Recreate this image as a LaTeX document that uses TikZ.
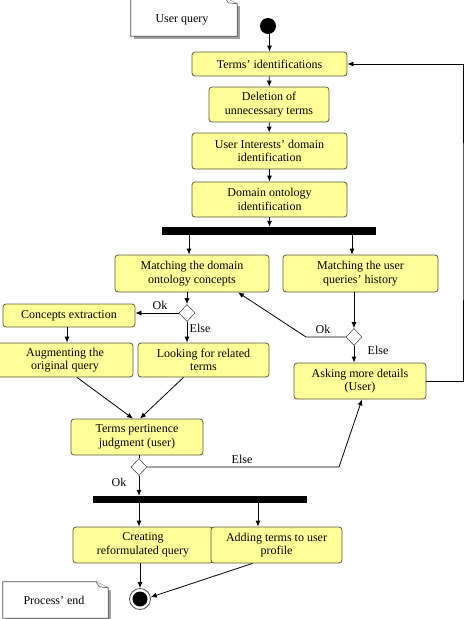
\documentclass[tikz,border=0pt]{standalone}
\usepackage{fontspec}
\setmainfont{Liberation Serif}
\usetikzlibrary{shapes.geometric,arrows.meta}
\definecolor{actfill}{HTML}{FFFF99}
\definecolor{actborder}{HTML}{5A5A3A}
\definecolor{notec}{HTML}{505050}
\definecolor{shadowc}{HTML}{A0A0A0}
\begin{document}
\begin{tikzpicture}[x=1pt,y=-1pt,
  txt/.style={font=\fontsize{12}{13.5}\selectfont},
  act/.style={txt,draw=actborder,fill=actfill,rounded corners=3pt,line width=0.8pt,align=center,inner sep=0pt},
  bar/.style={fill=black,inner sep=0pt,minimum height=8pt},
  dec/.style={diamond,draw=notec,fill=white,line width=0.6pt,inner sep=0pt,minimum width=16pt,minimum height=17pt},
  arr/.style={-{Latex[length=6pt,width=5pt]},line width=0.8pt},
  ln/.style={line width=0.8pt},
  notebox/.style={inner sep=0pt},
  lbl/.style={txt,inner sep=0pt}
]
\useasboundingbox (0,0) rectangle (464,619);

% notes
\node[notebox,minimum width=106pt,minimum height=38pt] (uq) at (184,17) {};
\node[notebox,minimum width=105pt,minimum height=36pt] (pe) at (55.5,600) {};
\foreach \n in {uq,pe}{
  \fill[shadowc] ([shift={(3pt,-3pt)}]\n.south west) rectangle ([shift={(3pt,-8pt)}]\n.north east);
  \draw[notec,fill=white,line width=0.8pt] (\n.north west) -- ([xshift=-12pt]\n.north east) -- ([yshift=-6pt]\n.north east) -- (\n.south east) -- (\n.south west) -- cycle;
  \draw[notec,fill=white,line width=0.6pt] ([xshift=-12pt]\n.north east) -- ([xshift=-9pt,yshift=-5pt]\n.north east) -- ([yshift=-6pt]\n.north east);
}
\node[txt] (uqt) at (182,20) {User query};
\node[txt] (pet) at (54,600) {Process' end};

% start / end
\node[circle,fill=black,minimum size=16pt,inner sep=0pt] (start) at (268,26) {};
\node[circle,draw=notec,fill=white,line width=0.8pt,minimum size=21pt,inner sep=0pt] (endo) at (140,599) {};
\node[circle,fill=black,minimum size=15pt,inner sep=0pt] (endi) at (140,599) {};

% activities
\node[act,minimum width=155pt,minimum height=24pt] (tid) at (269.5,64) {Terms' identifications};
\node[act,minimum width=120pt,minimum height=35pt] (del) at (269,104.5) {Deletion of\\unnecessary terms};
\node[act,minimum width=155pt,minimum height=36pt] (uid) at (269.5,151) {User Interests' domain\\identification};
\node[act,minimum width=155pt,minimum height=35pt] (doi) at (269.5,199.5) {Domain ontology\\identification};
\node[bar,minimum width=214pt] (bar1) at (269,231) {};
\node[act,minimum width=154pt,minimum height=37pt] (mdom) at (192,273.5) {Matching the domain\\ontology concepts};
\node[act,minimum width=155pt,minimum height=37pt] (mhist) at (360.5,273.5) {Matching the user\\queries' history};
\node[dec] (dia1) at (187,313) {};
\node[act,minimum width=132pt,minimum height=23pt] (cext) at (69,315.5) {Concepts extraction};
\node[act,minimum width=136pt,minimum height=34pt] (aug) at (65,360) {Augmenting the\\original query};
\node[act,minimum width=131pt,minimum height=34pt] (look) at (203.5,360) {Looking for related\\terms};
\node[dec] (dia2) at (354,337) {};
\node[act,minimum width=132pt,minimum height=36pt] (ask) at (360,381) {Asking more details\\(User)};
\node[act,minimum width=132pt,minimum height=36pt] (tp) at (137,437) {Terms pertinence\\judgment (user)};
\node[dec] (dia3) at (139,467) {};
\node[bar,minimum width=214pt,minimum height=7pt] (bar2) at (200,499.5) {};
\node[act,minimum width=140pt,minimum height=36pt] (cre) at (143,545) {Creating\\reformulated query};
\node[act,minimum width=131pt,minimum height=36pt] (add) at (276.5,545) {Adding terms to user\\profile};

% labels
\node[lbl] (ok1) at (160,305) {Ok};
\node[lbl] (else1) at (200,328) {Else};
\node[lbl] (ok2) at (323,329) {Ok};
\node[lbl] (else2) at (378,350) {Else};
\node[lbl] (else3) at (242,459) {Else};
\node[lbl] (ok3) at (119,482) {Ok};

% connectors
\draw[arr] (start.south -| tid.north) -- (tid.north);
\draw[arr] (tid) -- (del);
\draw[arr] (del) -- (uid);
\draw[arr] (uid) -- (doi);
\draw[arr] (doi.south) -- (doi.south |- bar1.north);
\draw[arr] (bar1.south -| 189,0) -- (mdom.north -| 189,0);
\draw[arr] (bar1.south -| 352,0) -- (mhist.north -| 352,0);
\draw[arr] (mdom.south -| dia1.north) -- (dia1.north);
\draw[arr] (dia1.west) -- (dia1.west -| cext.east);
\draw[arr] (dia1.south) -- (dia1.south |- look.north);
\draw[arr] (cext.south -| 67,0) -- (aug.north -| 67,0);
\draw[arr] (mhist.south -| dia2.north) -- (dia2.north);
\draw[arr] (dia2.south) -- (dia2.south |- ask.north);
\coordinate (c2) at (306,337);
\draw[arr] (dia2.west) -- (c2) -- ([xshift=46pt]mdom.south);
\coordinate (loopx) at (463,220);
\draw[arr] (ask.east) -| (loopx) |- (tid.east);
\draw[arr] ([xshift=12pt]aug.south) -- ([xshift=-4pt]tp.north);
\draw[arr] ([xshift=-20pt]look.south) -- ([xshift=3pt]tp.north);
\draw[ln] (tp.south -| dia3.north) -- (dia3.north);
\coordinate (c3) at (339,467);
\draw[arr] (dia3.east) -- (c3) -- ([xshift=2pt]ask.south);
\draw[arr] (dia3.south) -- (dia3.south |- bar2.north);
\draw[arr] (bar2.south -| 139,0) -- (cre.north -| 139,0);
\draw[arr] (bar2.south -| 258,0) -- (add.north -| 258,0);
\draw[arr] (cre.south -| endo.north) -- (endo.north);
\draw[arr] ([xshift=-24pt]add.south) -- (endo.10);
\end{tikzpicture}
\end{document}
